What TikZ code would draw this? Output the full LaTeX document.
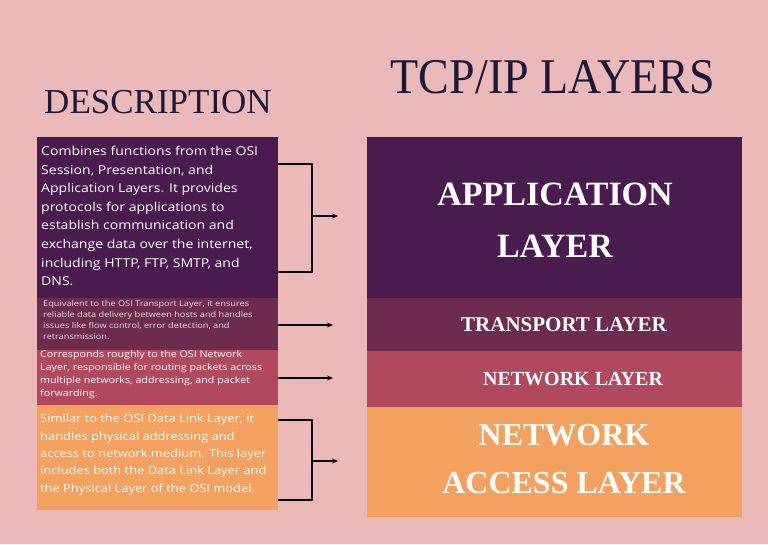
\documentclass[tikz,border=0pt]{standalone}
\usepackage{fontspec}
\setmainfont{Liberation Serif}
\newfontfamily\descfont[FakeStretch=1.15]{Open Sans}
\usetikzlibrary{arrows.meta}
\definecolor{bg}{HTML}{EAB9B8}
\definecolor{cA}{HTML}{4A1B4F}
\definecolor{cT}{HTML}{6D2B4F}
\definecolor{cN}{HTML}{B0495D}
\definecolor{cL}{HTML}{F4A05F}
\definecolor{ttl}{HTML}{1E1838}
\begin{document}
\begin{tikzpicture}[x=1pt,y=-1pt,
  desc/.style={anchor=north west,inner sep=0pt,align=left,text=white,font=\descfont},
  lay/.style={text=white,font=\bfseries,align=center},
  conn/.style={line width=1.3pt,black},
  arr/.style={conn,-{Stealth[length=6pt,width=5pt]}},
  title/.style={font=\fontsize{#1}{#1}\selectfont,text=ttl,transform shape}]
\fill[bg] (0,0) rectangle (768,544);
\useasboundingbox (0,0) rectangle (768,544);
% titles
\node[title=50,xscale=0.92] (t1) at (553,77) {TCP/IP LAYERS};
\node[title=35,xscale=1.0] (t2) at (158,102) {DESCRIPTION};
% left boxes
\fill[cA] (37,137) rectangle (278,298);
\fill[cT] (37,298) rectangle (278,350);
\fill[cN] (37,350) rectangle (278,405);
\fill[cL] (37,405) rectangle (278,510);
\node[desc,font=\descfont\fontsize{12.2}{18.6}\selectfont] (d1) at (41,146) {Combines functions from the OSI\\Session, Presentation, and\\Application Layers. It provides\\protocols for applications to\\establish communication and\\exchange data over the internet,\\including HTTP, FTP, SMTP, and\\DNS.};
\node[desc,font=\descfont\fontsize{8}{11}\selectfont,text=white!85!cT] (d2) at (43,300) {Equivalent to the OSI Transport Layer, it ensures\\reliable data delivery between hosts and handles\\issues like flow control, error detection, and\\retransmission.};
\node[desc,font=\descfont\fontsize{9.3}{13.2}\selectfont] (d3) at (40,350) {Corresponds roughly to the OSI Network\\Layer, responsible for routing packets across\\multiple networks, addressing, and packet\\forwarding.};
\node[desc,font=\descfont\fontsize{11.2}{17.4}\selectfont] (d4) at (40,414) {Similar to the OSI Data Link Layer, it\\handles physical addressing and\\access to network medium. This layer\\includes both the Data Link Layer and\\the Physical Layer of the OSI model.};
% right boxes
\fill[cA] (367,137) rectangle (742,298);
\fill[cT] (367,298) rectangle (742,351);
\fill[cN] (367,351) rectangle (742,407);
\fill[cL] (367,407) rectangle (742,517);
\node[lay,font=\bfseries\fontsize{34}{52}\selectfont] (r1) at (555,220) {APPLICATION\\LAYER};
\node[lay,font=\bfseries\fontsize{21}{24}\selectfont] (r2) at (564,325) {TRANSPORT LAYER};
\node[lay,font=\bfseries\fontsize{20}{24}\selectfont] (r3) at (573,379) {NETWORK LAYER};
\node[lay,font=\bfseries\fontsize{32}{48}\selectfont] (r4) at (564,459) {NETWORK\\ACCESS LAYER};
% connectors
\coordinate (a1) at (278,164); \coordinate (a2) at (312,164);
\coordinate (a3) at (312,272); \coordinate (a4) at (278,272);
\coordinate (a5) at (312,216); \coordinate (a6) at (338,216);
\draw[conn] (a1) -- (a2) -- (a3) -- (a4);
\draw[arr] (a5) -- (a6);
\coordinate (b1) at (278,325); \coordinate (b2) at (333,325);
\draw[arr] (b1) -- (b2);
\coordinate (c1) at (278,378); \coordinate (c2) at (333,378);
\draw[arr] (c1) -- (c2);
\coordinate (e1) at (278,420); \coordinate (e2) at (312,420);
\coordinate (e3) at (312,500); \coordinate (e4) at (278,500);
\coordinate (e5) at (312,461); \coordinate (e6) at (338,461);
\draw[conn] (e1) -- (e2) -- (e3) -- (e4);
\draw[arr] (e5) -- (e6);
\end{tikzpicture}
\end{document}
